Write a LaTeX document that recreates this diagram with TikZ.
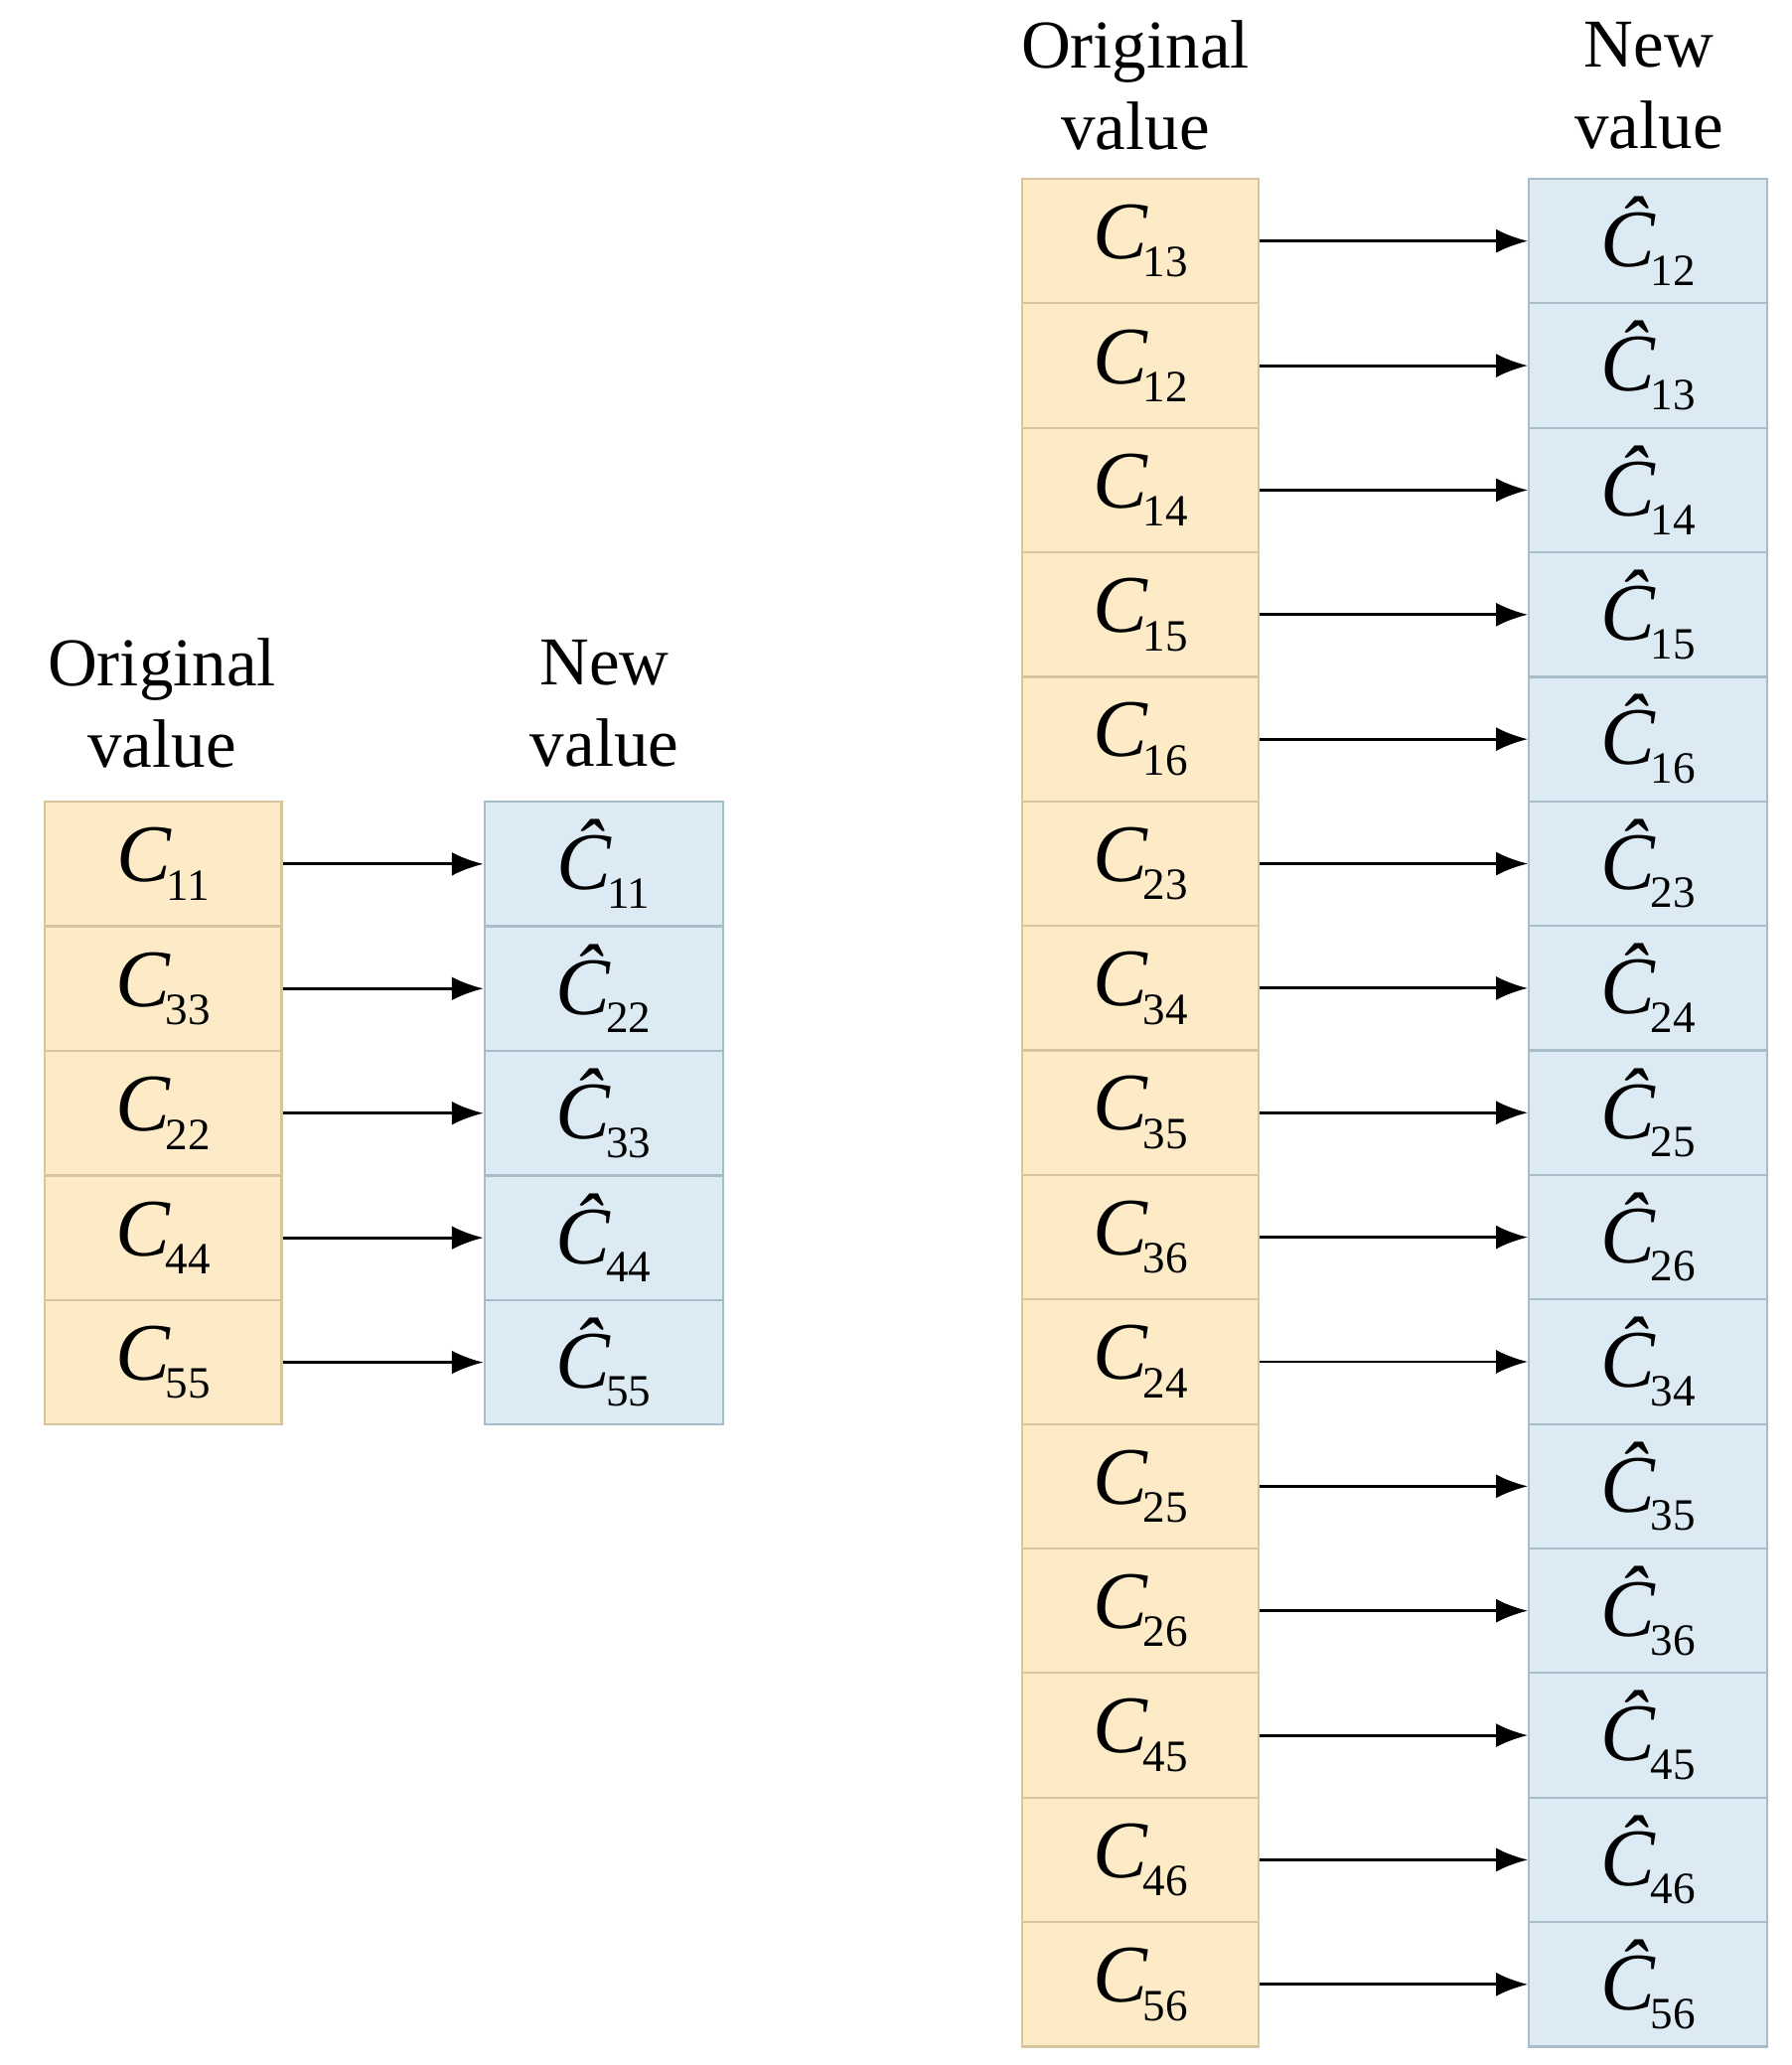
\documentclass[tikz,border=0pt]{standalone}
\usepackage{fontspec}
\setmainfont{Liberation Serif}
\usetikzlibrary{arrows.meta}
\definecolor{ofill}{HTML}{FDEBC8}
\definecolor{oline}{HTML}{D8C59E}
\definecolor{bfill}{HTML}{DCEBF3}
\definecolor{bline}{HTML}{A8BCC8}
\newcommand{\cval}[1]{\fontsize{31}{31}\selectfont\textit{C}\kern-2pt\raisebox{-7pt}{\fontsize{17}{17}\selectfont #1}}
\newcommand{\chat}[1]{\fontsize{31}{31}\selectfont\textit{\^{C}}\kern-2pt\raisebox{-7pt}{\fontsize{17}{17}\selectfont #1}}
\begin{document}
\begin{tikzpicture}[x=0.5pt,y=-0.5pt]
\tikzset{
 obox/.style={draw=oline,fill=ofill,line width=0.8pt,minimum width=90pt,minimum height=47.25pt,inner sep=0pt,anchor=north west},
 nbox/.style={draw=bline,fill=bfill,line width=0.8pt,minimum width=90.5pt,minimum height=47.25pt,inner sep=0pt,anchor=north west},
 hdr/.style={align=center,font=\fontsize{26}{31}\selectfont},
 arr/.style={-{Latex[length=12pt,width=9pt]},line width=1.1pt}
}
\useasboundingbox (0,0) rectangle (1360,1568);
% left
\node[hdr] (lh1) at (123,534) {Original\\value};
\node[hdr] (lh2) at (459,534) {New\\value};
\foreach [count=\i from 0] \a/\b in {11/11,33/22,22/33,44/44,55/55}{
 \node[obox] (lo\i) at (33,{608+94.6*\i}) {\cval{\a}};
 \node[nbox] (ln\i) at (367,{608+94.6*\i}) {\chat{\b}};
 \draw[arr] (lo\i.east) -- (ln\i.west);
}
% right
\node[hdr] (rh1) at (862,65) {Original\\value};
\node[hdr] (rh2) at (1252,65) {New\\value};
\foreach [count=\i from 0] \a/\b in {13/12,12/13,14/14,15/15,16/16,23/23,34/24,35/25,36/26,24/34,25/35,26/36,45/45,46/46,56/56}{
 \node[obox] (ro\i) at (775,{135+94.55*\i}) {\cval{\a}};
 \node[nbox] (rn\i) at (1160,{135+94.55*\i}) {\chat{\b}};
 \draw[arr] (ro\i.east) -- (rn\i.west);
}
\end{tikzpicture}
\end{document}
